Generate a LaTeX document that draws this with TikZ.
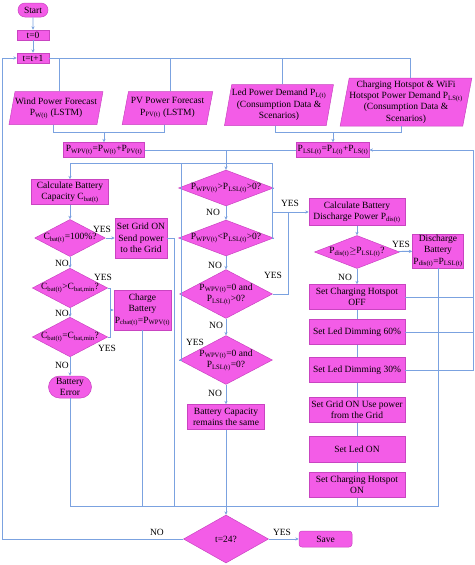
\documentclass[tikz,border=0pt]{standalone}
\usepackage{fontspec}
\setmainfont{Liberation Serif}
\usepackage{tikz}
\usetikzlibrary{arrows.meta,calc,positioning,shapes.geometric,shapes.misc}
\definecolor{flowfill}{HTML}{F35CE7}
\definecolor{flowedge}{HTML}{C944C1}
\definecolor{flowline}{HTML}{7BA2E0}
\newcommand{\lsub}[1]{\textsubscript{#1}}

\begin{document}
\begin{tikzpicture}[x=1pt,y=-1pt,>={Stealth[length=3.4pt,width=3.2pt]},
  font=\fontsize{9.5pt}{11.4pt}\selectfont,
  box/.style={rectangle,draw=flowedge,line width=.5pt,fill=flowfill,align=center,inner sep=1pt},
  term/.style={rounded rectangle,draw=flowedge,line width=.5pt,fill=flowfill,align=center,inner sep=1pt},
  dec/.style={diamond,draw=flowedge,line width=.5pt,fill=flowfill,align=center,inner sep=0pt},
  data/.style={trapezium,trapezium stretches=true,trapezium left angle=74,trapezium right angle=106,draw=flowedge,line width=.5pt,fill=flowfill,align=center,inner xsep=0pt,inner ysep=0pt},
  link/.style={flowline,line width=.9pt},
  lbl/.style={inner sep=0pt}]
\fill[white] (0,0) rectangle (474,565);
\useasboundingbox (0,0) rectangle (474,565);

% start and time step
\node[term,minimum width=32pt,minimum height=14pt] (start) at (33,10) {Start};
\node[box,minimum width=32pt,minimum height=10pt,inner sep=0pt] (tzero) at (33,35) {t=0};
\node[box,minimum width=32pt,minimum height=10pt,inner sep=0pt] (tstep) at (33,58) {t=t+1};

% forecasts and demands
\node[data,minimum width=92pt,minimum height=33pt] (wind) at (56,108) {Wind Power Forecast\\P\lsub{W(t)} (LSTM)};
\node[data,minimum width=91pt,minimum height=33pt] (pv) at (167.5,108) {PV Power Forecast\\P\lsub{PV(t)} (LSTM)};
\node[data,trapezium left angle=77,trapezium right angle=103,minimum width=108pt,minimum height=41pt] (led) at (279,105) {Led Power Demand P\lsub{L(t)}\\(Consumption Data \&\\Scenarios)};
\node[data,trapezium left angle=78,trapezium right angle=102,minimum width=127pt,minimum height=48pt] (hot) at (406,102) {Charging Hotspot \& WiFi\\Hotspot Power Demand P\lsub{LS(t)}\\(Consumption Data \&\\Scenarios)};
\node[box,minimum width=81pt,minimum height=15pt] (pwpv) at (104,150) {P\lsub{WPV(t)}=P\lsub{W(t)}+P\lsub{PV(t)}};
\node[box,minimum width=72pt,minimum height=15pt] (plsl) at (333,150) {P\lsub{LSL(t)}=P\lsub{L(t)}+P\lsub{LS(t)}};

% left column: charging
\node[box,minimum width=77pt,minimum height=25pt] (calcbat) at (70,192) {Calculate Battery\\Capacity C\lsub{bat(t)}};
\node[dec,aspect=1.9,minimum width=64pt,minimum height=34pt] (dfull) at (70,238) {C\lsub{bat(t)}=100\%?};
\node[box,minimum width=52pt,minimum height=40pt] (gridout) at (141,238) {Set Grid ON\\Send power\\to the Grid};
\node[dec,aspect=1.9,minimum width=64pt,minimum height=34pt] (dmin) at (70,288) {C\lsub{bat(t)}>C\lsub{bat,min}?};
\node[box,minimum width=51pt,minimum height=40pt] (charge) at (142.5,310) {Charge\\Battery\\P\lsub{cbat(t)}=P\lsub{WPV(t)}};
\node[dec,aspect=1.9,minimum width=62pt,minimum height=32pt] (deq) at (70,337) {C\lsub{bat(t)}=C\lsub{bat,min}?};
\node[term,minimum width=45pt,minimum height=22pt] (err) at (70,387) {Battery\\Error};

% middle column: comparisons
\node[dec,aspect=2.64,minimum width=87pt,minimum height=33pt] (dsurp) at (226,188) {P\lsub{WPV(t)}>P\lsub{LSL(t)}>0?};
\node[dec,aspect=2.64,minimum width=87pt,minimum height=33pt] (dlack) at (226,238) {P\lsub{WPV(t)}<P\lsub{LSL(t)}>0?};
\node[dec,aspect=1.9,minimum width=85pt,minimum height=45pt] (dzero) at (226,294) {P\lsub{WPV(t)}=0 and\\P\lsub{LSL(t)}>0?};
\node[dec,aspect=1.9,minimum width=87pt,minimum height=46pt] (dnone) at (226,360) {P\lsub{WPV(t)}=0 and\\P\lsub{LSL(t)}=0?};
\node[box,minimum width=77pt,minimum height=25pt] (same) at (226,417) {Battery Capacity\\remains the same};

% right column: discharging and load control
\node[box,minimum width=96pt,minimum height=27pt] (calcdis) at (357,212) {Calculate Battery\\Discharge Power P\lsub{dis(t)}};
\node[dec,aspect=2.6,minimum width=85pt,minimum height=33pt] (ddis) at (357,252) {P\lsub{dis(t)}$\geq$P\lsub{LSL(t)}?};
\node[box,minimum width=50pt,minimum height=33pt] (dischg) at (438,251) {Discharge\\Battery\\P\lsub{dis(t)}=P\lsub{LSL(t)}};
\node[box,minimum width=96pt,minimum height=25pt] (hotoff) at (357,297) {Set Charging Hotspot\\OFF};
\node[box,minimum width=96pt,minimum height=25pt] (dimsix) at (357,332) {Set Led Dimming 60\%};
\node[box,minimum width=96pt,minimum height=25pt] (dimthree) at (357,370) {Set Led Dimming 30\%};
\node[box,minimum width=96pt,minimum height=25pt] (gridin) at (357,410) {Set Grid ON Use power\\from the Grid};
\node[box,minimum width=96pt,minimum height=26pt] (ledon) at (357,449) {Set Led ON};
\node[box,minimum width=96pt,minimum height=25pt] (hoton) at (357,485) {Set Charging Hotspot\\ON};

% end of the hour
\node[dec,aspect=1.8,minimum width=85pt,minimum height=48pt] (tend) at (226,539) {t=24?};
\node[box,rounded corners=3pt,minimum width=53pt,minimum height=16pt] (save) at (325.5,539) {Save};

% YES / NO labels
\node[lbl] (yfull) at (102,229) {YES};
\node[lbl] (nfull) at (62,263) {NO};
\node[lbl] (ymin) at (103,277) {YES};
\node[lbl] (nmin) at (62,313) {NO};
\node[lbl] (yeq) at (107,348) {YES};
\node[lbl] (neq) at (62,365) {NO};
\node[lbl] (ylack) at (290,203) {YES};
\node[lbl] (nsurp) at (213,212) {NO};
\node[lbl] (nlack) at (215,265) {NO};
\node[lbl] (yzero) at (273,275) {YES};
\node[lbl] (nzero) at (216,325) {NO};
\node[lbl] (ynone) at (195,342) {YES};
\node[lbl] (nnone) at (215,393) {NO};
\node[lbl] (ydis) at (401,244) {YES};
\node[lbl] (ndis) at (345,277) {NO};
\node[lbl] (nend) at (157,532) {NO};
\node[lbl] (yend) at (282,532) {YES};

% junction points
\coordinate (fjoin) at ($(wind.bottom side)+(0,8)$);
\coordinate (djoin) at ($(led.bottom side)+(0,7)$);
\coordinate (chgbus) at (272,163);
\coordinate (yesbus) at (181,163);
\coordinate (disbus) at (272,212);
\coordinate (zerobus) at (288,212);
\coordinate (cbus) at (110,310);
\coordinate (busy) at (0,506);
\coordinate (rret) at (473,150);
\coordinate (looptop) at (2,58);

% top part
\draw[link,->] (start) -- (tzero);
\draw[link,->] (tzero) -- (tstep);
\draw[link] (tstep.east) -| (hot.top side);
\foreach \n in {wind,pv,led} \draw[link] (\n.top side) -- (\n.top side |- tstep.east);
\draw[link] (wind.bottom side) -- (fjoin) -| (pv.bottom side);
\draw[link,->] (fjoin -| pwpv.north) -- (pwpv.north);
\draw[link] (led.bottom side) -- (djoin) -| (hot.bottom side);
\draw[link,->] (djoin -| plsl.north) -- (plsl.north);
\draw[link] (pwpv.east) -- (plsl.west);
\draw[link,->] (dsurp.north |- pwpv.east) -- (dsurp.north);

% middle decisions
\draw[link,->] (dsurp) -- (dlack);
\draw[link,->] (dlack) -- (dzero);
\draw[link,->] (dzero) -- (dnone);
\draw[link,->] (dnone) -- (same);
\draw[link,->] (dsurp.east) -| (chgbus) -| (calcbat.north);
\draw[link] (dnone.west) -| (yesbus);
\draw[link] (dlack.east) -| (chgbus);
\draw[link,->] (disbus) -- (calcdis.west);
\draw[link] (dzero.east) -| (zerobus);

% left column
\draw[link,->] (calcbat) -- (dfull);
\draw[link,->] (dfull) -- (gridout);
\draw[link,->] (dfull) -- (dmin);
\draw[link,->] (dmin) -- (deq);
\draw[link,->] (deq) -- (err);
\draw[link] (dmin.east) -| (cbus);
\draw[link] (deq.east) -| (cbus);
\draw[link,->] (cbus) -- (charge.west);

% right column
\draw[link,->] (calcdis) -- (ddis);
\draw[link,->] (ddis) -- (dischg);
\draw[link,->] (ddis) -- (hotoff);
\draw[link] (hotoff) -- (dimsix);
\draw[link] (dimsix) -- (dimthree);
\draw[link] (dimthree) -- (gridin);
\draw[link] (gridin) -- (ledon);
\draw[link] (ledon) -- (hoton);
\draw[link,->] (dimthree.east) -| (rret) -- (plsl.east);
\foreach \n in {hotoff,dimsix} \draw[link] (\n.east) -- (\n.east -| rret);

% collecting bus to t=24
\draw[link] (err.south) |- (dischg.south |- busy) -- (dischg.south);
\foreach \n in {charge,hoton} \draw[link] (\n.south) -- (\n.south |- busy);
\draw[link] (gridout.east) -| ([xshift=7pt]gridout.east |- busy);
\draw[link,->] (same.south) -- (tend.north);
\draw[link,->] (tend.east) -- (save.west);
\draw[link,->] (tend.west) -| (looptop) -- (tstep.west);
\end{tikzpicture}
\end{document}
